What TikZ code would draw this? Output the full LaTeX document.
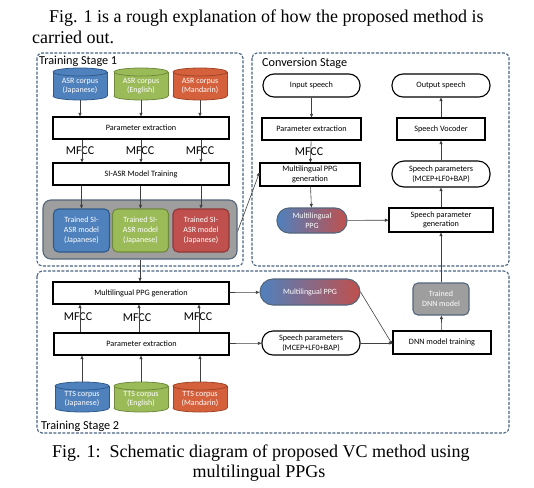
\documentclass[tikz,border=0pt]{standalone}
\usepackage{fontspec}
\setmainfont{Liberation Serif}
\newfontfamily\calfont{Carlito}
\usetikzlibrary{arrows.meta}
\definecolor{stagec}{HTML}{4A6283}
\definecolor{bluef}{HTML}{4F81BD}
\definecolor{blueb}{HTML}{2F5B8C}
\definecolor{greenf}{HTML}{9BBB59}
\definecolor{greenb}{HTML}{6F8A3C}
\definecolor{orangef}{HTML}{D4603C}
\definecolor{orangeb}{HTML}{A04528}
\definecolor{redf}{HTML}{C0504D}
\definecolor{redb}{HTML}{8C3836}
\definecolor{grayf}{HTML}{9E9E9E}
\definecolor{grayb}{HTML}{55667D}
\definecolor{linec}{HTML}{404040}
\definecolor{midc}{HTML}{AABB58}
\newcommand\mycyl[7]{% name, cx, ytop, ybot, fill, border, text
  \fill[#5,draw=#6,line width=0.8pt] (#2,#4-4) ellipse [x radius=27pt, y radius=4pt];
  \fill[#5] (#2-27,#3+4) rectangle (#2+27,#4-4);
  \draw[#6,line width=0.8pt] (#2-27,#3+4) -- (#2-27,#4-4) (#2+27,#3+4) -- (#2+27,#4-4);
  \fill[#5,draw=#6,line width=0.8pt] (#2,#3+4) ellipse [x radius=27pt, y radius=4pt];
  \node[cyltext] (#1) at (#2,{(#3+#4)/2+2}) {#7};
}
\begin{document}
\begin{tikzpicture}[x=1pt,y=-1pt,
  stage/.style={draw=stagec, line width=1.1pt, dash pattern=on 3pt off 1.5pt, rounded corners=5pt},
  stagelabel/.style={font=\calfont\fontsize{12.2}{14}\selectfont, anchor=west, inner sep=0},
  box/.style={draw=black, line width=1.1pt, fill=white, font=\calfont\fontsize{8.2}{9.6}\selectfont, align=center, inner sep=0},
  pill/.style={box, rounded corners=11pt},
  cyltext/.style={font=\calfont\fontsize{8}{9.6}\selectfont, text=white, align=center, inner sep=0, minimum width=54, minimum height=26},
  model/.style={draw=#1, line width=1.1pt, rounded corners=5pt, text=white, align=center, font=\calfont\fontsize{8}{10.2}\selectfont, inner sep=0, minimum width=56, minimum height=43},
  mfcc/.style={font=\calfont\fontsize{12}{13}\selectfont, inner sep=0},
  conn/.style={draw=linec, line width=0.6pt, -{Triangle[length=3.5pt,width=3pt]}},
  grad/.style={draw=grayb, line width=1.1pt, rounded corners=12pt, left color=bluef, middle color=midc, right color=redf, text=white, align=center, font=\calfont\fontsize{8}{10}\selectfont, inner sep=0}
]
\useasboundingbox (0,0) rectangle (534,487);

% top text
\node[anchor=base west, inner sep=0, font=\fontsize{18}{20}\selectfont] (t1) at (49,23) {Fig. 1 is a rough explanation of how the proposed method is};
\node[anchor=base west, inner sep=0, font=\fontsize{18}{20}\selectfont] (t2) at (32,43) {carried out.};

% stage frames
\draw[stage] (37,53) rectangle (243,266);
\draw[stage] (252,53) rectangle (509,266);
\draw[stage] (37,271) rectangle (509,433);
\node[stagelabel] (l1) at (39,61) {Training Stage 1};
\node[stagelabel] (l2) at (262,63) {Conversion Stage};
\node[stagelabel] (l3) at (41,426) {Training Stage 2};

% ---- Training stage 1
\mycyl{asr1}{80}{68}{100}{bluef}{blueb}{ASR corpus\\(Japanese)}
\mycyl{asr2}{141}{68}{100}{greenf}{greenb}{ASR corpus\\(English)}
\mycyl{asr3}{200}{68}{100}{orangef}{orangeb}{ASR corpus\\(Mandarin)}
\node[box, minimum width=176, minimum height=22] (pe1) at (141,128) {Parameter extraction};
\node[box, minimum width=176, minimum height=22] (si) at (141,174) {SI-ASR Model Training};
\node[mfcc] (m1) at (80,151) {MFCC};
\node[mfcc] (m2) at (140,151) {MFCC};
\node[mfcc] (m3) at (200,151) {MFCC};
\node[draw=grayb, fill=grayf, line width=1.1pt, rounded corners=8pt, minimum width=194, minimum height=59, inner sep=0] (gc) at (140,229.5) {};
\node[model=blueb, fill=bluef] (tm1) at (81.5,230.5) {Trained SI-\\ASR model\\(Japanese)};
\node[model=greenb, fill=greenf] (tm2) at (140.5,230.5) {Trained SI-\\ASR model\\(Japanese)};
\node[model=redb, fill=redf] (tm3) at (201,230.5) {Trained SI-\\ASR model\\(Japanese)};

\foreach \a/\x in {asr1/80,asr2/141,asr3/200}{
  \draw[conn] (\x,100) -- (pe1.north -| \a);
}
\foreach \x in {82,141,201}{
  \draw[conn] (pe1.south -| \x,0) -- (si.north -| \x,0);
}
\draw[conn] (si.south -| tm1) -- (tm1.north);
\draw[conn] (si.south -| tm2) -- (tm2.north);
\draw[conn] (si.south -| tm3) -- (tm3.north);

% ---- Conversion stage
\node[pill, minimum width=97, minimum height=23] (in) at (311.5,85.5) {Input speech};
\node[box, minimum width=99, minimum height=22] (pe2) at (311.5,129) {Parameter extraction};
\node[mfcc] (m4) at (309,152) {MFCC};
\node[box, minimum width=100, minimum height=23] (pg) at (310,174.5) {Multilingual PPG\\generation};
\node[grad, minimum width=70, minimum height=25] (ppg) at (312,220.5) {Multilingual\\PPG};
\node[box, minimum width=104, minimum height=24] (spg) at (441,220) {Speech parameter\\generation};
\node[pill, minimum width=98, minimum height=26, rounded corners=12pt] (sp) at (441,174) {Speech parameters\\(MCEP+LF0+BAP)};
\node[box, minimum width=88, minimum height=22] (voc) at (441,129) {Speech Vocoder};
\node[pill, minimum width=98, minimum height=23] (out) at (441,85.5) {Output speech};

\draw[conn] (in) -- (pe2);
\draw[conn] (pe2) -- (pg);
\draw[conn] (pg) -- (ppg);
\draw[conn] (ppg) -- (spg);
\draw[conn] (spg) -- (sp);
\draw[conn] (sp) -- (voc);
\draw[conn] (voc) -- (out);
\draw[conn] (gc.east) ++(0,2) coordinate (gce) (gce) -- ([yshift=2pt]pg.west);

% ---- Training stage 2
\node[box, minimum width=176, minimum height=22] (pg2) at (141,293) {Multilingual PPG generation};
\node[grad, minimum width=100, minimum height=26, rounded corners=13pt] (ppg2) at (310,292) {Multilingual PPG};
\node[box, minimum width=175, minimum height=22] (pe3) at (141.5,344) {Parameter extraction};
\node[pill, minimum width=98, minimum height=24] (sp2) at (311,343) {Speech parameters\\(MCEP+LF0+BAP)};
\node[box, minimum width=98, minimum height=23] (dnn) at (442,342.5) {DNN model training};
\node[draw=grayb, fill=grayf, line width=1.1pt, rounded corners=5pt, minimum width=56, minimum height=32, inner sep=0, text=white, align=center, font=\calfont\fontsize{8}{10.2}\selectfont] (tdnn) at (441,299) {Trained\\DNN model};
\node[mfcc] (m5) at (78,317) {MFCC};
\node[mfcc] (m6) at (137,318) {MFCC};
\node[mfcc] (m7) at (198,317) {MFCC};
\mycyl{tts1}{82}{382}{412}{bluef}{blueb}{TTS corpus\\(Japanese)}
\mycyl{tts2}{141}{382}{412}{greenf}{greenb}{TTS corpus\\(English)}
\mycyl{tts3}{200}{382}{412}{orangef}{orangeb}{TTS corpus\\(Mandarin)}

\draw[conn] (gc.south) -- (pg2.north -| gc.south);
\foreach \x in {80,139,199}{
  \draw[conn] (pe3.north -| \x,0) -- (pg2.south -| \x,0);
}
\foreach \a/\x in {tts1/82,tts2/141,tts3/200}{
  \draw[conn] (\x,382) -- (pe3.south -| \a);
}
\draw[conn] (pg2) -- (ppg2);
\draw[conn] (pe3) -- (sp2);
\draw[conn] (sp2.east) -- (dnn.west |- sp2.east);
\draw[conn] (ppg2.east) -- ([yshift=-2pt]dnn.west);
\draw[conn] (dnn) -- (tdnn);
\draw[conn] (tdnn) -- (spg);

% caption
\node[anchor=base west, inner sep=0, font=\fontsize{18}{20}\selectfont] (c1) at (52,457) {Fig. 1:\ \ Schematic diagram of proposed VC method using};
\node[anchor=base, inner sep=0, font=\fontsize{18}{20}\selectfont] (c2) at (259,477) {multilingual PPGs};
\end{tikzpicture}
\end{document}
